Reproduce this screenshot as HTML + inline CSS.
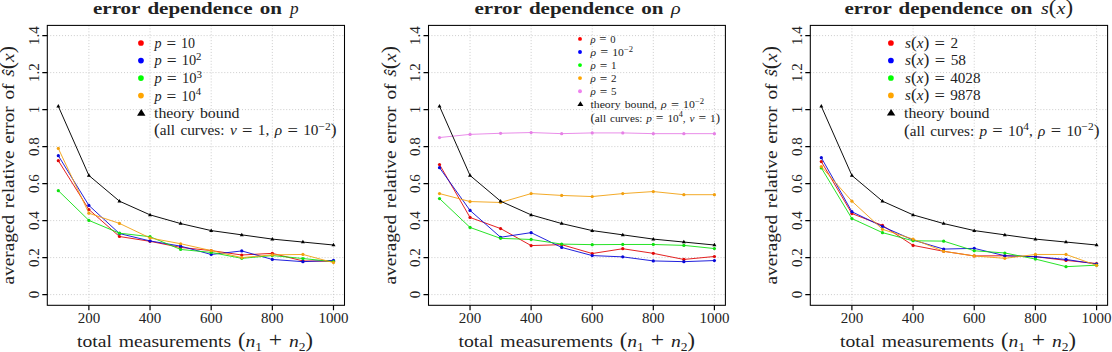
<!DOCTYPE html><html><head><meta charset="utf-8"><style>html,body{margin:0;padding:0;background:#fff;width:1112px;height:352px;overflow:hidden}svg{display:block}text{font-family:"Liberation Serif",serif;fill:#222;word-spacing:0.1em}.i{font-style:italic}.b{font-weight:bold}</style></head><body>
<svg width="1112" height="352" viewBox="0 0 1112 352">
<rect width="1112" height="352" fill="#fff"/>
<path d="M88.88 25.4V305.3M150.04 25.4V305.3M211.19 25.4V305.3M272.34 25.4V305.3M333.49 25.4V305.3M47.3 294.6H344.5M47.3 257.6H344.5M47.3 220.6H344.5M47.3 183.6H344.5M47.3 146.6H344.5M47.3 109.6H344.5M47.3 72.6H344.5M47.3 35.6H344.5" stroke="#c4c4c4" stroke-width="0.85" stroke-dasharray="1 1.95" fill="none"/>
<polyline points="58.31,160.66 88.88,209.5 119.46,236.51 150.04,241.32 180.61,247.43 211.19,250.57 241.76,255.01 272.34,253.35 302.92,260.93 333.49,261.3" fill="none" stroke="#e00808" stroke-width="0.9" stroke-linejoin="round"/>
<circle cx="58.31" cy="160.66" r="1.6" fill="#e00808"/>
<circle cx="88.88" cy="209.5" r="1.6" fill="#e00808"/>
<circle cx="119.46" cy="236.51" r="1.6" fill="#e00808"/>
<circle cx="150.04" cy="241.32" r="1.6" fill="#e00808"/>
<circle cx="180.61" cy="247.43" r="1.6" fill="#e00808"/>
<circle cx="211.19" cy="250.57" r="1.6" fill="#e00808"/>
<circle cx="241.76" cy="255.01" r="1.6" fill="#e00808"/>
<circle cx="272.34" cy="253.35" r="1.6" fill="#e00808"/>
<circle cx="302.92" cy="260.93" r="1.6" fill="#e00808"/>
<circle cx="333.49" cy="261.3" r="1.6" fill="#e00808"/>
<polyline points="58.31,155.67 88.88,205.43 119.46,233.55 150.04,240.95 180.61,246.13 211.19,254.46 241.76,250.94 272.34,259.45 302.92,261.67 333.49,260.38" fill="none" stroke="#0808d8" stroke-width="0.9" stroke-linejoin="round"/>
<circle cx="58.31" cy="155.67" r="1.6" fill="#0808d8"/>
<circle cx="88.88" cy="205.43" r="1.6" fill="#0808d8"/>
<circle cx="119.46" cy="233.55" r="1.6" fill="#0808d8"/>
<circle cx="150.04" cy="240.95" r="1.6" fill="#0808d8"/>
<circle cx="180.61" cy="246.13" r="1.6" fill="#0808d8"/>
<circle cx="211.19" cy="254.46" r="1.6" fill="#0808d8"/>
<circle cx="241.76" cy="250.94" r="1.6" fill="#0808d8"/>
<circle cx="272.34" cy="259.45" r="1.6" fill="#0808d8"/>
<circle cx="302.92" cy="261.67" r="1.6" fill="#0808d8"/>
<circle cx="333.49" cy="260.38" r="1.6" fill="#0808d8"/>
<polyline points="58.31,190.63 88.88,220.42 119.46,233.18 150.04,236.7 180.61,249.46 211.19,252.42 241.76,258.34 272.34,255.57 302.92,258.53 333.49,261.67" fill="none" stroke="#10e010" stroke-width="0.9" stroke-linejoin="round"/>
<circle cx="58.31" cy="190.63" r="1.6" fill="#10e010"/>
<circle cx="88.88" cy="220.42" r="1.6" fill="#10e010"/>
<circle cx="119.46" cy="233.18" r="1.6" fill="#10e010"/>
<circle cx="150.04" cy="236.7" r="1.6" fill="#10e010"/>
<circle cx="180.61" cy="249.46" r="1.6" fill="#10e010"/>
<circle cx="211.19" cy="252.42" r="1.6" fill="#10e010"/>
<circle cx="241.76" cy="258.34" r="1.6" fill="#10e010"/>
<circle cx="272.34" cy="255.57" r="1.6" fill="#10e010"/>
<circle cx="302.92" cy="258.53" r="1.6" fill="#10e010"/>
<circle cx="333.49" cy="261.67" r="1.6" fill="#10e010"/>
<polyline points="58.31,148.45 88.88,213.2 119.46,223.38 150.04,237.99 180.61,243.73 211.19,250.57 241.76,257.6 272.34,254.83 302.92,254.46 333.49,262.6" fill="none" stroke="#f2a010" stroke-width="0.9" stroke-linejoin="round"/>
<circle cx="58.31" cy="148.45" r="1.6" fill="#f2a010"/>
<circle cx="88.88" cy="213.2" r="1.6" fill="#f2a010"/>
<circle cx="119.46" cy="223.38" r="1.6" fill="#f2a010"/>
<circle cx="150.04" cy="237.99" r="1.6" fill="#f2a010"/>
<circle cx="180.61" cy="243.73" r="1.6" fill="#f2a010"/>
<circle cx="211.19" cy="250.57" r="1.6" fill="#f2a010"/>
<circle cx="241.76" cy="257.6" r="1.6" fill="#f2a010"/>
<circle cx="272.34" cy="254.83" r="1.6" fill="#f2a010"/>
<circle cx="302.92" cy="254.46" r="1.6" fill="#f2a010"/>
<circle cx="333.49" cy="262.6" r="1.6" fill="#f2a010"/>
<polyline points="58.31,106.27 88.88,175.46 119.46,201.18 150.04,214.87 180.61,223.56 211.19,230.59 241.76,234.85 272.34,239.1 302.92,242.06 333.49,245.02" fill="none" stroke="#000" stroke-width="0.95" stroke-linejoin="round"/>
<path d="M58.31 104.07l2 3.5h-4z" fill="#000"/>
<path d="M88.88 173.26l2 3.5h-4z" fill="#000"/>
<path d="M119.46 198.98l2 3.5h-4z" fill="#000"/>
<path d="M150.04 212.67l2 3.5h-4z" fill="#000"/>
<path d="M180.61 221.36l2 3.5h-4z" fill="#000"/>
<path d="M211.19 228.39l2 3.5h-4z" fill="#000"/>
<path d="M241.76 232.65l2 3.5h-4z" fill="#000"/>
<path d="M272.34 236.9l2 3.5h-4z" fill="#000"/>
<path d="M302.92 239.86l2 3.5h-4z" fill="#000"/>
<path d="M333.49 242.82l2 3.5h-4z" fill="#000"/>
<rect x="47.3" y="25.4" width="297.2" height="279.9" fill="none" stroke="#000" stroke-width="1.05"/>
<path d="M42.3 294.6H47.3M42.3 257.6H47.3M42.3 220.6H47.3M42.3 183.6H47.3M42.3 146.6H47.3M42.3 109.6H47.3M42.3 72.6H47.3M42.3 35.6H47.3M88.88 305.3V310.3M150.04 305.3V310.3M211.19 305.3V310.3M272.34 305.3V310.3M333.49 305.3V310.3" stroke="#000" stroke-width="1.2" fill="none"/>
<text transform="translate(38.8 294.6) rotate(-90)" text-anchor="middle" font-size="15">0</text>
<text transform="translate(38.8 257.6) rotate(-90)" text-anchor="middle" font-size="15">0.2</text>
<text transform="translate(38.8 220.6) rotate(-90)" text-anchor="middle" font-size="15">0.4</text>
<text transform="translate(38.8 183.6) rotate(-90)" text-anchor="middle" font-size="15">0.6</text>
<text transform="translate(38.8 146.6) rotate(-90)" text-anchor="middle" font-size="15">0.8</text>
<text transform="translate(38.8 109.6) rotate(-90)" text-anchor="middle" font-size="15">1</text>
<text transform="translate(38.8 72.6) rotate(-90)" text-anchor="middle" font-size="15">1.2</text>
<text transform="translate(38.8 35.6) rotate(-90)" text-anchor="middle" font-size="15">1.4</text>
<text x="88.88" y="322.7" text-anchor="middle" font-size="15">200</text>
<text x="150.04" y="322.7" text-anchor="middle" font-size="15">400</text>
<text x="211.19" y="322.7" text-anchor="middle" font-size="15">600</text>
<text x="272.34" y="322.7" text-anchor="middle" font-size="15">800</text>
<text x="333.49" y="322.7" text-anchor="middle" font-size="15">1000</text>
<path d="M470.04 25.4V305.3M531.13 25.4V305.3M592.22 25.4V305.3M653.31 25.4V305.3M714.4 25.4V305.3M428.5 294.6H725.4M428.5 257.6H725.4M428.5 220.6H725.4M428.5 183.6H725.4M428.5 146.6H725.4M428.5 109.6H725.4M428.5 72.6H725.4M428.5 35.6H725.4" stroke="#c4c4c4" stroke-width="0.85" stroke-dasharray="1 1.95" fill="none"/>
<polyline points="439.5,164.55 470.04,217.46 500.59,228.56 531.13,245.58 561.68,244.65 592.22,253.53 622.77,248.72 653.31,253.35 683.86,259.45 714.4,256.49" fill="none" stroke="#e00808" stroke-width="0.9" stroke-linejoin="round"/>
<circle cx="439.5" cy="164.55" r="1.6" fill="#e00808"/>
<circle cx="470.04" cy="217.46" r="1.6" fill="#e00808"/>
<circle cx="500.59" cy="228.56" r="1.6" fill="#e00808"/>
<circle cx="531.13" cy="245.58" r="1.6" fill="#e00808"/>
<circle cx="561.68" cy="244.65" r="1.6" fill="#e00808"/>
<circle cx="592.22" cy="253.53" r="1.6" fill="#e00808"/>
<circle cx="622.77" cy="248.72" r="1.6" fill="#e00808"/>
<circle cx="653.31" cy="253.35" r="1.6" fill="#e00808"/>
<circle cx="683.86" cy="259.45" r="1.6" fill="#e00808"/>
<circle cx="714.4" cy="256.49" r="1.6" fill="#e00808"/>
<polyline points="439.5,167.69 470.04,210.43 500.59,237.25 531.13,232.63 561.68,247.43 592.22,255.57 622.77,256.86 653.31,260.93 683.86,261.67 714.4,260.56" fill="none" stroke="#0808d8" stroke-width="0.9" stroke-linejoin="round"/>
<circle cx="439.5" cy="167.69" r="1.6" fill="#0808d8"/>
<circle cx="470.04" cy="210.43" r="1.6" fill="#0808d8"/>
<circle cx="500.59" cy="237.25" r="1.6" fill="#0808d8"/>
<circle cx="531.13" cy="232.63" r="1.6" fill="#0808d8"/>
<circle cx="561.68" cy="247.43" r="1.6" fill="#0808d8"/>
<circle cx="592.22" cy="255.57" r="1.6" fill="#0808d8"/>
<circle cx="622.77" cy="256.86" r="1.6" fill="#0808d8"/>
<circle cx="653.31" cy="260.93" r="1.6" fill="#0808d8"/>
<circle cx="683.86" cy="261.67" r="1.6" fill="#0808d8"/>
<circle cx="714.4" cy="260.56" r="1.6" fill="#0808d8"/>
<polyline points="439.5,198.59 470.04,227.45 500.59,238.36 531.13,239.47 561.68,244.1 592.22,244.65 622.77,244.47 653.31,244.47 683.86,245.39 714.4,248.54" fill="none" stroke="#10e010" stroke-width="0.9" stroke-linejoin="round"/>
<circle cx="439.5" cy="198.59" r="1.6" fill="#10e010"/>
<circle cx="470.04" cy="227.45" r="1.6" fill="#10e010"/>
<circle cx="500.59" cy="238.36" r="1.6" fill="#10e010"/>
<circle cx="531.13" cy="239.47" r="1.6" fill="#10e010"/>
<circle cx="561.68" cy="244.1" r="1.6" fill="#10e010"/>
<circle cx="592.22" cy="244.65" r="1.6" fill="#10e010"/>
<circle cx="622.77" cy="244.47" r="1.6" fill="#10e010"/>
<circle cx="653.31" cy="244.47" r="1.6" fill="#10e010"/>
<circle cx="683.86" cy="245.39" r="1.6" fill="#10e010"/>
<circle cx="714.4" cy="248.54" r="1.6" fill="#10e010"/>
<polyline points="439.5,193.59 470.04,201.55 500.59,202.47 531.13,193.59 561.68,195.44 592.22,196.55 622.77,193.59 653.31,191.56 683.86,194.7 714.4,194.7" fill="none" stroke="#f2a010" stroke-width="0.9" stroke-linejoin="round"/>
<circle cx="439.5" cy="193.59" r="1.6" fill="#f2a010"/>
<circle cx="470.04" cy="201.55" r="1.6" fill="#f2a010"/>
<circle cx="500.59" cy="202.47" r="1.6" fill="#f2a010"/>
<circle cx="531.13" cy="193.59" r="1.6" fill="#f2a010"/>
<circle cx="561.68" cy="195.44" r="1.6" fill="#f2a010"/>
<circle cx="592.22" cy="196.55" r="1.6" fill="#f2a010"/>
<circle cx="622.77" cy="193.59" r="1.6" fill="#f2a010"/>
<circle cx="653.31" cy="191.56" r="1.6" fill="#f2a010"/>
<circle cx="683.86" cy="194.7" r="1.6" fill="#f2a010"/>
<circle cx="714.4" cy="194.7" r="1.6" fill="#f2a010"/>
<polyline points="439.5,137.54 470.04,134.39 500.59,133.28 531.13,132.54 561.68,133.65 592.22,132.91 622.77,132.91 653.31,133.65 683.86,133.65 714.4,133.65" fill="none" stroke="#e680e6" stroke-width="0.9" stroke-linejoin="round"/>
<circle cx="439.5" cy="137.54" r="1.6" fill="#e680e6"/>
<circle cx="470.04" cy="134.39" r="1.6" fill="#e680e6"/>
<circle cx="500.59" cy="133.28" r="1.6" fill="#e680e6"/>
<circle cx="531.13" cy="132.54" r="1.6" fill="#e680e6"/>
<circle cx="561.68" cy="133.65" r="1.6" fill="#e680e6"/>
<circle cx="592.22" cy="132.91" r="1.6" fill="#e680e6"/>
<circle cx="622.77" cy="132.91" r="1.6" fill="#e680e6"/>
<circle cx="653.31" cy="133.65" r="1.6" fill="#e680e6"/>
<circle cx="683.86" cy="133.65" r="1.6" fill="#e680e6"/>
<circle cx="714.4" cy="133.65" r="1.6" fill="#e680e6"/>
<polyline points="439.5,106.27 470.04,175.46 500.59,201.18 531.13,214.87 561.68,223.56 592.22,230.59 622.77,234.85 653.31,239.1 683.86,242.06 714.4,245.02" fill="none" stroke="#000" stroke-width="0.95" stroke-linejoin="round"/>
<path d="M439.5 104.07l2 3.5h-4z" fill="#000"/>
<path d="M470.04 173.26l2 3.5h-4z" fill="#000"/>
<path d="M500.59 198.98l2 3.5h-4z" fill="#000"/>
<path d="M531.13 212.67l2 3.5h-4z" fill="#000"/>
<path d="M561.68 221.36l2 3.5h-4z" fill="#000"/>
<path d="M592.22 228.39l2 3.5h-4z" fill="#000"/>
<path d="M622.77 232.65l2 3.5h-4z" fill="#000"/>
<path d="M653.31 236.9l2 3.5h-4z" fill="#000"/>
<path d="M683.86 239.86l2 3.5h-4z" fill="#000"/>
<path d="M714.4 242.82l2 3.5h-4z" fill="#000"/>
<rect x="428.5" y="25.4" width="296.9" height="279.9" fill="none" stroke="#000" stroke-width="1.05"/>
<path d="M423.5 294.6H428.5M423.5 257.6H428.5M423.5 220.6H428.5M423.5 183.6H428.5M423.5 146.6H428.5M423.5 109.6H428.5M423.5 72.6H428.5M423.5 35.6H428.5M470.04 305.3V310.3M531.13 305.3V310.3M592.22 305.3V310.3M653.31 305.3V310.3M714.4 305.3V310.3" stroke="#000" stroke-width="1.2" fill="none"/>
<text transform="translate(420 294.6) rotate(-90)" text-anchor="middle" font-size="15">0</text>
<text transform="translate(420 257.6) rotate(-90)" text-anchor="middle" font-size="15">0.2</text>
<text transform="translate(420 220.6) rotate(-90)" text-anchor="middle" font-size="15">0.4</text>
<text transform="translate(420 183.6) rotate(-90)" text-anchor="middle" font-size="15">0.6</text>
<text transform="translate(420 146.6) rotate(-90)" text-anchor="middle" font-size="15">0.8</text>
<text transform="translate(420 109.6) rotate(-90)" text-anchor="middle" font-size="15">1</text>
<text transform="translate(420 72.6) rotate(-90)" text-anchor="middle" font-size="15">1.2</text>
<text transform="translate(420 35.6) rotate(-90)" text-anchor="middle" font-size="15">1.4</text>
<text x="470.04" y="322.7" text-anchor="middle" font-size="15">200</text>
<text x="531.13" y="322.7" text-anchor="middle" font-size="15">400</text>
<text x="592.22" y="322.7" text-anchor="middle" font-size="15">600</text>
<text x="653.31" y="322.7" text-anchor="middle" font-size="15">800</text>
<text x="714.4" y="322.7" text-anchor="middle" font-size="15">1000</text>
<path d="M851.9 25.4V305.3M913.07 25.4V305.3M974.24 25.4V305.3M1035.42 25.4V305.3M1096.59 25.4V305.3M810.3 294.6H1107.6M810.3 257.6H1107.6M810.3 220.6H1107.6M810.3 183.6H1107.6M810.3 146.6H1107.6M810.3 109.6H1107.6M810.3 72.6H1107.6M810.3 35.6H1107.6" stroke="#c4c4c4" stroke-width="0.85" stroke-dasharray="1 1.95" fill="none"/>
<polyline points="821.31,161.59 851.9,213.57 882.48,225.41 913.07,245.39 943.66,251.31 974.24,255.94 1004.83,255.75 1035.42,256.68 1066,260.38 1096.59,263.52" fill="none" stroke="#e00808" stroke-width="0.9" stroke-linejoin="round"/>
<circle cx="821.31" cy="161.59" r="1.6" fill="#e00808"/>
<circle cx="851.9" cy="213.57" r="1.6" fill="#e00808"/>
<circle cx="882.48" cy="225.41" r="1.6" fill="#e00808"/>
<circle cx="913.07" cy="245.39" r="1.6" fill="#e00808"/>
<circle cx="943.66" cy="251.31" r="1.6" fill="#e00808"/>
<circle cx="974.24" cy="255.94" r="1.6" fill="#e00808"/>
<circle cx="1004.83" cy="255.75" r="1.6" fill="#e00808"/>
<circle cx="1035.42" cy="256.68" r="1.6" fill="#e00808"/>
<circle cx="1066" cy="260.38" r="1.6" fill="#e00808"/>
<circle cx="1096.59" cy="263.52" r="1.6" fill="#e00808"/>
<polyline points="821.31,157.7 851.9,211.72 882.48,226.52 913.07,240.03 943.66,249.09 974.24,248.35 1004.83,255.75 1035.42,256.68 1066,259.45 1096.59,264.08" fill="none" stroke="#0808d8" stroke-width="0.9" stroke-linejoin="round"/>
<circle cx="821.31" cy="157.7" r="1.6" fill="#0808d8"/>
<circle cx="851.9" cy="211.72" r="1.6" fill="#0808d8"/>
<circle cx="882.48" cy="226.52" r="1.6" fill="#0808d8"/>
<circle cx="913.07" cy="240.03" r="1.6" fill="#0808d8"/>
<circle cx="943.66" cy="249.09" r="1.6" fill="#0808d8"/>
<circle cx="974.24" cy="248.35" r="1.6" fill="#0808d8"/>
<circle cx="1004.83" cy="255.75" r="1.6" fill="#0808d8"/>
<circle cx="1035.42" cy="256.68" r="1.6" fill="#0808d8"/>
<circle cx="1066" cy="259.45" r="1.6" fill="#0808d8"/>
<circle cx="1096.59" cy="264.08" r="1.6" fill="#0808d8"/>
<polyline points="821.31,167.88 851.9,218.57 882.48,232.63 913.07,240.77 943.66,241.14 974.24,250.76 1004.83,252.98 1035.42,259.08 1066,266.67 1096.59,265.19" fill="none" stroke="#10e010" stroke-width="0.9" stroke-linejoin="round"/>
<circle cx="821.31" cy="167.88" r="1.6" fill="#10e010"/>
<circle cx="851.9" cy="218.57" r="1.6" fill="#10e010"/>
<circle cx="882.48" cy="232.63" r="1.6" fill="#10e010"/>
<circle cx="913.07" cy="240.77" r="1.6" fill="#10e010"/>
<circle cx="943.66" cy="241.14" r="1.6" fill="#10e010"/>
<circle cx="974.24" cy="250.76" r="1.6" fill="#10e010"/>
<circle cx="1004.83" cy="252.98" r="1.6" fill="#10e010"/>
<circle cx="1035.42" cy="259.08" r="1.6" fill="#10e010"/>
<circle cx="1066" cy="266.67" r="1.6" fill="#10e010"/>
<circle cx="1096.59" cy="265.19" r="1.6" fill="#10e010"/>
<polyline points="821.31,166.58 851.9,201.18 882.48,229.3 913.07,239.1 943.66,251.31 974.24,255.94 1004.83,258.34 1035.42,254.46 1066,254.46 1096.59,265.37" fill="none" stroke="#f2a010" stroke-width="0.9" stroke-linejoin="round"/>
<circle cx="821.31" cy="166.58" r="1.6" fill="#f2a010"/>
<circle cx="851.9" cy="201.18" r="1.6" fill="#f2a010"/>
<circle cx="882.48" cy="229.3" r="1.6" fill="#f2a010"/>
<circle cx="913.07" cy="239.1" r="1.6" fill="#f2a010"/>
<circle cx="943.66" cy="251.31" r="1.6" fill="#f2a010"/>
<circle cx="974.24" cy="255.94" r="1.6" fill="#f2a010"/>
<circle cx="1004.83" cy="258.34" r="1.6" fill="#f2a010"/>
<circle cx="1035.42" cy="254.46" r="1.6" fill="#f2a010"/>
<circle cx="1066" cy="254.46" r="1.6" fill="#f2a010"/>
<circle cx="1096.59" cy="265.37" r="1.6" fill="#f2a010"/>
<polyline points="821.31,106.27 851.9,175.46 882.48,201.18 913.07,214.87 943.66,223.56 974.24,230.59 1004.83,234.85 1035.42,239.1 1066,242.06 1096.59,245.02" fill="none" stroke="#000" stroke-width="0.95" stroke-linejoin="round"/>
<path d="M821.31 104.07l2 3.5h-4z" fill="#000"/>
<path d="M851.9 173.26l2 3.5h-4z" fill="#000"/>
<path d="M882.48 198.98l2 3.5h-4z" fill="#000"/>
<path d="M913.07 212.67l2 3.5h-4z" fill="#000"/>
<path d="M943.66 221.36l2 3.5h-4z" fill="#000"/>
<path d="M974.24 228.39l2 3.5h-4z" fill="#000"/>
<path d="M1004.83 232.65l2 3.5h-4z" fill="#000"/>
<path d="M1035.42 236.9l2 3.5h-4z" fill="#000"/>
<path d="M1066 239.86l2 3.5h-4z" fill="#000"/>
<path d="M1096.59 242.82l2 3.5h-4z" fill="#000"/>
<rect x="810.3" y="25.4" width="297.3" height="279.9" fill="none" stroke="#000" stroke-width="1.05"/>
<path d="M805.3 294.6H810.3M805.3 257.6H810.3M805.3 220.6H810.3M805.3 183.6H810.3M805.3 146.6H810.3M805.3 109.6H810.3M805.3 72.6H810.3M805.3 35.6H810.3M851.9 305.3V310.3M913.07 305.3V310.3M974.24 305.3V310.3M1035.42 305.3V310.3M1096.59 305.3V310.3" stroke="#000" stroke-width="1.2" fill="none"/>
<text transform="translate(801.8 294.6) rotate(-90)" text-anchor="middle" font-size="15">0</text>
<text transform="translate(801.8 257.6) rotate(-90)" text-anchor="middle" font-size="15">0.2</text>
<text transform="translate(801.8 220.6) rotate(-90)" text-anchor="middle" font-size="15">0.4</text>
<text transform="translate(801.8 183.6) rotate(-90)" text-anchor="middle" font-size="15">0.6</text>
<text transform="translate(801.8 146.6) rotate(-90)" text-anchor="middle" font-size="15">0.8</text>
<text transform="translate(801.8 109.6) rotate(-90)" text-anchor="middle" font-size="15">1</text>
<text transform="translate(801.8 72.6) rotate(-90)" text-anchor="middle" font-size="15">1.2</text>
<text transform="translate(801.8 35.6) rotate(-90)" text-anchor="middle" font-size="15">1.4</text>
<text x="851.9" y="322.7" text-anchor="middle" font-size="15">200</text>
<text x="913.07" y="322.7" text-anchor="middle" font-size="15">400</text>
<text x="974.24" y="322.7" text-anchor="middle" font-size="15">600</text>
<text x="1035.42" y="322.7" text-anchor="middle" font-size="15">800</text>
<text x="1096.59" y="322.7" text-anchor="middle" font-size="15">1000</text>
<circle cx="140.95" cy="43" r="2.85" fill="#ff0000"/>
<circle cx="140.95" cy="60.55" r="2.85" fill="#0000ff"/>
<circle cx="140.95" cy="78.1" r="2.85" fill="#00ff00"/>
<circle cx="140.95" cy="95.6" r="2.85" fill="#ffa500"/>
<path d="M141.25 109L145.45 115.8H137.05z" fill="#000"/>
<circle cx="890.9" cy="43" r="2.85" fill="#ff0000"/>
<circle cx="890.9" cy="60.5" r="2.85" fill="#0000ff"/>
<circle cx="890.9" cy="78" r="2.85" fill="#00ff00"/>
<circle cx="890.9" cy="95.4" r="2.85" fill="#ffa500"/>
<path d="M891.1 109L895.3 115.5H886.9z" fill="#000"/>
<circle cx="580" cy="38.9" r="1.95" fill="#ff0000"/>
<circle cx="580" cy="52" r="1.95" fill="#0000ff"/>
<circle cx="580" cy="65.1" r="1.95" fill="#00ff00"/>
<circle cx="580" cy="78.1" r="1.95" fill="#ffa500"/>
<circle cx="580" cy="91.2" r="1.95" fill="#ee82ee"/>
<path d="M580.4 101.3L583.4 106H577.4z" fill="#000"/>
<text x="93.00" y="13.70" font-size="17.6" textLength="189.00" lengthAdjust="spacingAndGlyphs"><tspan font-weight="bold">error dependence on</tspan></text>
<text x="474.50" y="13.70" font-size="17.6" textLength="189.01" lengthAdjust="spacingAndGlyphs"><tspan font-weight="bold">error dependence on</tspan></text>
<text x="844.50" y="13.70" font-size="17.6" textLength="188.00" lengthAdjust="spacingAndGlyphs"><tspan font-weight="bold">error dependence on</tspan></text>
<text x="290.00" y="13.70" font-size="17.6" textLength="8.62" lengthAdjust="spacingAndGlyphs"><tspan font-style="italic">p</tspan></text>
<text x="671.00" y="13.70" font-size="17.6" textLength="9.69" lengthAdjust="spacingAndGlyphs"><tspan font-style="italic">ρ</tspan></text>
<text x="1041.00" y="13.70" font-size="17.6" textLength="32.08" lengthAdjust="spacingAndGlyphs"><tspan font-style="italic">s</tspan><tspan font-size="20">(</tspan><tspan font-style="italic">x</tspan><tspan font-size="20">)</tspan></text>
<text x="77.00" y="347.00" font-size="17.5" textLength="236.01" lengthAdjust="spacingAndGlyphs">total measurements <tspan font-size="20">(</tspan><tspan font-style="italic">n</tspan><tspan font-size="12" dy="3.5">1</tspan><tspan dy="-3.5"> </tspan><tspan font-size="21">+</tspan> <tspan font-style="italic">n</tspan><tspan font-size="12" dy="3.5">2</tspan><tspan dy="-3.5" font-size="20">)</tspan></text>
<text x="458.50" y="347.00" font-size="17.5" textLength="236.51" lengthAdjust="spacingAndGlyphs">total measurements <tspan font-size="20">(</tspan><tspan font-style="italic">n</tspan><tspan font-size="12" dy="3.5">1</tspan><tspan dy="-3.5"> </tspan><tspan font-size="21">+</tspan> <tspan font-style="italic">n</tspan><tspan font-size="12" dy="3.5">2</tspan><tspan dy="-3.5" font-size="20">)</tspan></text>
<text x="840.00" y="347.00" font-size="17.5" textLength="236.01" lengthAdjust="spacingAndGlyphs">total measurements <tspan font-size="20">(</tspan><tspan font-style="italic">n</tspan><tspan font-size="12" dy="3.5">1</tspan><tspan dy="-3.5"> </tspan><tspan font-size="21">+</tspan> <tspan font-style="italic">n</tspan><tspan font-size="12" dy="3.5">2</tspan><tspan dy="-3.5" font-size="20">)</tspan></text>
<text transform="translate(14.30 284.50) rotate(-90)" font-size="17.5" textLength="238.51" lengthAdjust="spacingAndGlyphs">averaged relative error of <tspan font-style="italic">ŝ</tspan><tspan font-size="20">(</tspan><tspan font-style="italic">x</tspan><tspan font-size="20">)</tspan></text>
<text transform="translate(395.50 284.50) rotate(-90)" font-size="17.5" textLength="238.51" lengthAdjust="spacingAndGlyphs">averaged relative error of <tspan font-style="italic">ŝ</tspan><tspan font-size="20">(</tspan><tspan font-style="italic">x</tspan><tspan font-size="20">)</tspan></text>
<text transform="translate(777.30 284.50) rotate(-90)" font-size="17.5" textLength="238.51" lengthAdjust="spacingAndGlyphs">averaged relative error of <tspan font-style="italic">ŝ</tspan><tspan font-size="20">(</tspan><tspan font-style="italic">x</tspan><tspan font-size="20">)</tspan></text>
<text x="154.50" y="47.80" font-size="14.0" textLength="40.51" lengthAdjust="spacingAndGlyphs" fill="#303030"><tspan font-style="italic">p</tspan> <tspan font-size="17" dy="0.9">=</tspan><tspan dy="-0.9"> </tspan>10</text>
<text x="154.50" y="65.40" font-size="14.0" textLength="47.00" lengthAdjust="spacingAndGlyphs" fill="#303030"><tspan font-style="italic">p</tspan> <tspan font-size="17" dy="0.9">=</tspan><tspan dy="-0.9"> </tspan>10<tspan font-size="10.5" dy="-5.5">2</tspan></text>
<text x="154.50" y="83.00" font-size="14.0" textLength="47.50" lengthAdjust="spacingAndGlyphs" fill="#303030"><tspan font-style="italic">p</tspan> <tspan font-size="17" dy="0.9">=</tspan><tspan dy="-0.9"> </tspan>10<tspan font-size="10.5" dy="-5.5">3</tspan></text>
<text x="154.50" y="100.60" font-size="14.0" textLength="46.50" lengthAdjust="spacingAndGlyphs" fill="#303030"><tspan font-style="italic">p</tspan> <tspan font-size="17" dy="0.9">=</tspan><tspan dy="-0.9"> </tspan>10<tspan font-size="10.5" dy="-5.5">4</tspan></text>
<text x="154.00" y="118.10" font-size="14.0" textLength="85.52" lengthAdjust="spacingAndGlyphs" fill="#303030">theory bound</text>
<text x="154.00" y="135.30" font-size="14.0" textLength="182.51" lengthAdjust="spacingAndGlyphs" fill="#303030"><tspan font-size="16">(</tspan>all curves: <tspan font-style="italic">ν</tspan> <tspan font-size="17" dy="0.9">=</tspan><tspan dy="-0.9"> </tspan>1, <tspan font-style="italic">ρ</tspan> <tspan font-size="17" dy="0.9">=</tspan><tspan dy="-0.9"> </tspan>10<tspan font-size="10.5" dy="-5.5">−2</tspan><tspan dy="5.5" font-size="16">)</tspan></text>
<text x="905.00" y="47.70" font-size="14.0" textLength="53.01" lengthAdjust="spacingAndGlyphs" fill="#303030"><tspan font-style="italic">s</tspan><tspan font-size="16">(</tspan><tspan font-style="italic">x</tspan><tspan font-size="16">)</tspan> <tspan font-size="17" dy="0.9">=</tspan><tspan dy="-0.9"> </tspan>2</text>
<text x="905.00" y="65.20" font-size="14.0" textLength="61.01" lengthAdjust="spacingAndGlyphs" fill="#303030"><tspan font-style="italic">s</tspan><tspan font-size="16">(</tspan><tspan font-style="italic">x</tspan><tspan font-size="16">)</tspan> <tspan font-size="17" dy="0.9">=</tspan><tspan dy="-0.9"> </tspan>58</text>
<text x="905.00" y="82.70" font-size="14.0" textLength="75.51" lengthAdjust="spacingAndGlyphs" fill="#303030"><tspan font-style="italic">s</tspan><tspan font-size="16">(</tspan><tspan font-style="italic">x</tspan><tspan font-size="16">)</tspan> <tspan font-size="17" dy="0.9">=</tspan><tspan dy="-0.9"> </tspan>4028</text>
<text x="905.00" y="100.10" font-size="14.0" textLength="75.51" lengthAdjust="spacingAndGlyphs" fill="#303030"><tspan font-style="italic">s</tspan><tspan font-size="16">(</tspan><tspan font-style="italic">x</tspan><tspan font-size="16">)</tspan> <tspan font-size="17" dy="0.9">=</tspan><tspan dy="-0.9"> </tspan>9878</text>
<text x="904.00" y="118.20" font-size="14.0" textLength="85.52" lengthAdjust="spacingAndGlyphs" fill="#303030">theory bound</text>
<text x="904.00" y="135.50" font-size="14.0" textLength="195.52" lengthAdjust="spacingAndGlyphs" fill="#303030"><tspan font-size="16">(</tspan>all curves: <tspan font-style="italic">p</tspan> <tspan font-size="17" dy="0.9">=</tspan><tspan dy="-0.9"> </tspan>10<tspan font-size="10.5" dy="-5.5">4</tspan><tspan dy="5.5">, </tspan><tspan font-style="italic">ρ</tspan> <tspan font-size="17" dy="0.9">=</tspan><tspan dy="-0.9"> </tspan>10<tspan font-size="10.5" dy="-5.5">−2</tspan><tspan dy="5.5" font-size="16">)</tspan></text>
<text x="590.50" y="42.50" font-size="10.6" textLength="25.02" lengthAdjust="spacingAndGlyphs" fill="#3a3a3a"><tspan font-style="italic">ρ</tspan> <tspan font-size="12.8" dy="0.7">=</tspan><tspan dy="-0.7"> </tspan>0</text>
<text x="590.50" y="55.70" font-size="10.6" textLength="42.52" lengthAdjust="spacingAndGlyphs" fill="#3a3a3a"><tspan font-style="italic">ρ</tspan> <tspan font-size="12.8" dy="0.7">=</tspan><tspan dy="-0.7"> </tspan>10<tspan font-size="7.8" dy="-4.2">−2</tspan></text>
<text x="590.50" y="68.90" font-size="10.6" textLength="26.07" lengthAdjust="spacingAndGlyphs" fill="#3a3a3a"><tspan font-style="italic">ρ</tspan> <tspan font-size="12.8" dy="0.7">=</tspan><tspan dy="-0.7"> </tspan>1</text>
<text x="590.50" y="82.10" font-size="10.6" textLength="26.06" lengthAdjust="spacingAndGlyphs" fill="#3a3a3a"><tspan font-style="italic">ρ</tspan> <tspan font-size="12.8" dy="0.7">=</tspan><tspan dy="-0.7"> </tspan>2</text>
<text x="590.50" y="95.30" font-size="10.6" textLength="26.06" lengthAdjust="spacingAndGlyphs" fill="#3a3a3a"><tspan font-style="italic">ρ</tspan> <tspan font-size="12.8" dy="0.7">=</tspan><tspan dy="-0.7"> </tspan>5</text>
<text x="590.50" y="108.30" font-size="10.6" textLength="113.51" lengthAdjust="spacingAndGlyphs" fill="#3a3a3a">theory bound, <tspan font-style="italic">ρ</tspan> <tspan font-size="12.8" dy="0.7">=</tspan><tspan dy="-0.7"> </tspan>10<tspan font-size="7.8" dy="-4.2">−2</tspan></text>
<text x="590.50" y="121.50" font-size="10.6" textLength="129.50" lengthAdjust="spacingAndGlyphs" fill="#3a3a3a"><tspan font-size="12.2">(</tspan>all curves: <tspan font-style="italic">p</tspan> <tspan font-size="12.8" dy="0.7">=</tspan><tspan dy="-0.7"> </tspan>10<tspan font-size="7.8" dy="-4.2">4</tspan><tspan dy="4.2">, </tspan><tspan font-style="italic">ν</tspan> <tspan font-size="12.8" dy="0.7">=</tspan><tspan dy="-0.7"> </tspan>1<tspan font-size="12.2">)</tspan></text>
</svg></body></html>
